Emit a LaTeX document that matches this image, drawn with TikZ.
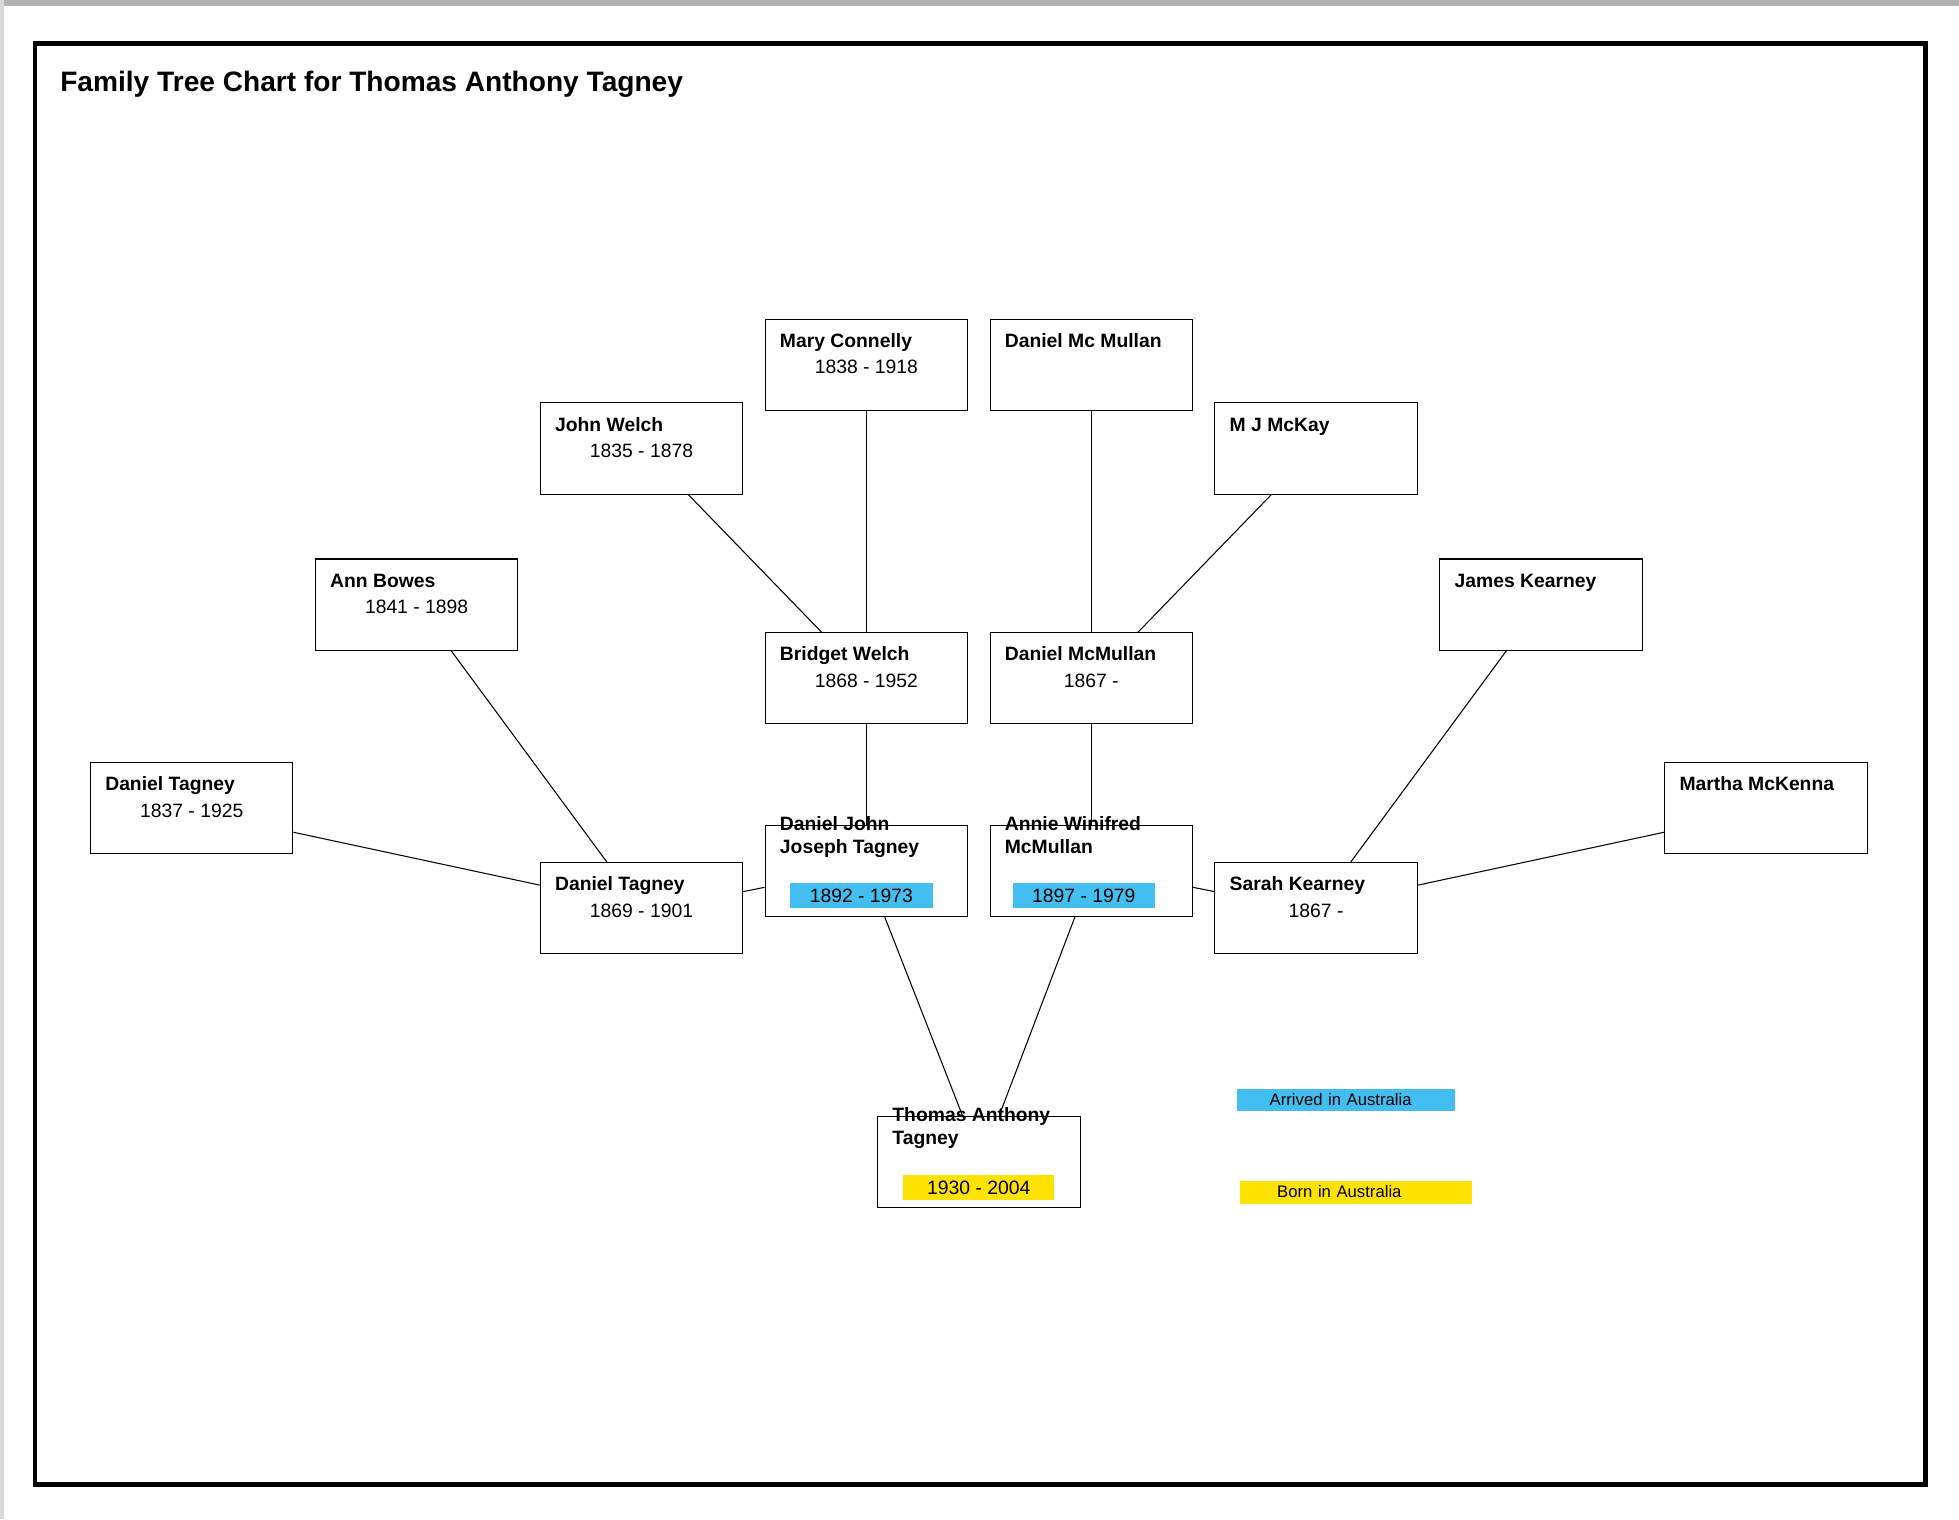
\documentclass[tikz,border=0pt]{standalone}
\usepackage{fontspec}
\setmainfont{Liberation Sans}
\usetikzlibrary{calc}

\definecolor{arrived}{RGB}{66,190,240}
\definecolor{born}{RGB}{255,226,0}

\tikzset{
  box/.style={draw,line width=0.6pt,anchor=north west,inner sep=0pt,
    minimum width=4.05cm,minimum height=1.825cm},
  who/.style={font=\fontsize{11}{13}\selectfont\bfseries,inner sep=0pt,align=left,anchor=base west},
  yrs/.style={font=\fontsize{11}{13}\selectfont,inner sep=0pt,anchor=base},
  mark/.style={fill=#1,minimum width=2.85cm,minimum height=0.5cm,inner sep=0pt,
    text depth=0.12cm,text height=0.38cm},
  key/.style={fill=#1,anchor=north west,inner sep=0pt,text height=0.33cm,text depth=0.12cm,
    font=\fontsize{9.5}{11}\selectfont},
  link/.style={line width=0.6pt}
}

% one person: id, x, y, name, dates, dates offset, extra date style
\newcommand\person[7]{%
  \node[box] (#1) at (#2,#3) {};
  \node[who] (#1n) at ($(#1.north west)+(12,23)$) {#4};
  \node[yrs,#7] (#1d) at ($(#1.north)+(0,#6)$) {#5};
}

\begin{document}
\begin{tikzpicture}[x=0.025cm,y=-0.025cm]
  \useasboundingbox (0,0) rectangle (1568,1216);
  %% page edges
  \fill[black!30] (0,0) rectangle (1568,5);
  \fill[black!15] (0,0) rectangle (3,1216);
  \draw[line width=2.8pt] (28,35) rectangle (1541,1188);
  \node[font=\fontsize{16}{19}\selectfont\bfseries,anchor=base west,inner sep=0pt] (title)
    at (48,73) {Family Tree Chart for Thomas Anthony Tagney};

  %% people
  \person{mc}{612}{255}{Mary Connelly}{1838 - 1918}{44}{}
  \person{dmm}{792}{255}{Daniel Mc Mullan}{}{44}{}
  \person{jw}{432}{322}{John Welch}{1835 - 1878}{44}{}
  \person{mjm}{972}{322}{M J McKay}{}{44}{}
  \person{ab}{252}{447}{Ann Bowes}{1841 - 1898}{44}{}
  \person{jk}{1152}{447}{James Kearney}{}{44}{}
  \person{bw}{612}{506}{Bridget Welch}{1868 - 1952}{44}{}
  \person{dmc}{792}{506}{Daniel McMullan}{1867 -}{44}{}
  \person{dto}{72}{610}{Daniel Tagney}{1837 - 1925}{44}{}
  \person{mk}{1332}{610}{Martha McKenna}{}{44}{}
  \person{dt}{432}{690}{Daniel Tagney}{1869 - 1901}{44}{}
  \person{djj}{612}{660}{Daniel John\\Joseph Tagney}{1892 - 1973}{62}{mark=arrived,xshift=-0.1cm}
  \person{awm}{792}{660}{Annie Winifred\\McMullan}{1897 - 1979}{62}{mark=arrived,xshift=-0.15cm}
  \person{sk}{972}{690}{Sarah Kearney}{1867 -}{44}{}
  \person{tat}{702}{893}{Thomas Anthony\\Tagney}{1930 - 2004}{63}{mark=born,minimum width=3.02cm}

  %% links
  \draw[link] (mc.south) -- (bw.north);
  \draw[link] ($(jw.south west)!0.73!(jw.south east)$) -- ($(bw.north west)!0.28!(bw.north east)$);
  \draw[link] (dmm.south) -- (dmc.north);
  \draw[link] ($(mjm.south west)!0.28!(mjm.south east)$) -- ($(dmc.north west)!0.73!(dmc.north east)$);
  \draw[link] (bw.south) -- (djj.north);
  \draw[link] (dmc.south) -- (awm.north);
  \draw[link] ($(ab.south west)!0.67!(ab.south east)$) -- ($(dt.north west)!0.33!(dt.north east)$);
  \draw[link] ($(dto.north east)!0.76!(dto.south east)$) -- ($(dt.north west)!0.25!(dt.south west)$);
  \draw[link] ($(dt.north east)!0.32!(dt.south east)$) -- ($(djj.north west)!0.68!(djj.south west)$);
  \draw[link] ($(jk.south west)!0.33!(jk.south east)$) -- ($(sk.north west)!0.67!(sk.north east)$);
  \draw[link] ($(mk.north west)!0.76!(mk.south west)$) -- ($(sk.north east)!0.25!(sk.south east)$);
  \draw[link] ($(awm.north east)!0.68!(awm.south east)$) -- ($(sk.north west)!0.32!(sk.south west)$);
  \draw[link] ($(djj.south west)!0.59!(djj.south east)$) -- ($(tat.north west)!0.42!(tat.north east)$);
  \draw[link] ($(awm.south west)!0.42!(awm.south east)$) -- ($(tat.north west)!0.60!(tat.north east)$);

  %% key
  \node[key=arrived,minimum width=4.35cm,text width=3.95cm,align=left] (arr) at (990,871)
    {\hspace*{0.45cm}Arrived in Australia};
  \node[key=born,minimum width=4.65cm,text width=4.25cm,align=left] (brn) at (992,945)
    {\hspace*{0.55cm}Born in Australia};
\end{tikzpicture}
\end{document}
